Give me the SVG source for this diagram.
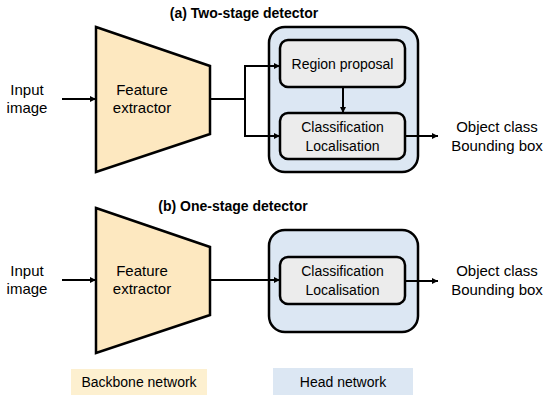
<svg xmlns="http://www.w3.org/2000/svg" width="550" height="404" viewBox="0 0 550 404">
<defs>
<marker id="ah" viewBox="0 0 10 10" refX="10" refY="5" markerWidth="6" markerHeight="6" markerUnits="userSpaceOnUse" orient="auto"><path d="M0,0 L10,5 L0,10 z" fill="#000"/></marker>
<style>
text{font-family:"Liberation Sans",Arial,sans-serif;font-size:14px;fill:#000;text-anchor:middle}
.t{font-weight:bold}
.trap{fill:#fde8c0;stroke:#000;stroke-width:2.5;stroke-linejoin:miter}
.head{fill:#dce7f3;stroke:#000;stroke-width:2.5}
.box{fill:#ececec;stroke:#000;stroke-width:2.5}
.c{fill:none;stroke:#000;stroke-width:2}
.ca{fill:none;stroke:#000;stroke-width:2;marker-end:url(#ah)}
</style>
</defs>
<rect width="550" height="404" fill="#fff"/>
<text class="t" x="244" y="18">(a) Two-stage detector</text>
<text class="t" x="233" y="211">(b) One-stage detector</text>
<g id="input-a"><text x="27" y="95" style="font-size:15px">Input</text><text x="27" y="113" style="font-size:15px">image</text></g>
<g id="extractor-a"><polygon class="trap" points="96,27 210,66 210,134 96,172"/><text x="142" y="95" style="font-size:15px">Feature</text><text x="142" y="113" style="font-size:15px">extractor</text></g>
<g id="head-a"><rect class="head" x="269" y="27" width="149" height="145" rx="16"/></g>
<g id="region-a"><rect class="box" x="280" y="40" width="125" height="47" rx="8"/><text x="342.5" y="69">Region proposal</text></g>
<g id="cls-a"><rect class="box" x="280" y="113" width="125" height="46" rx="8"/><text x="342.5" y="132">Classification</text><text x="342.5" y="151">Localisation</text></g>
<g id="out-a"><text x="497" y="132" style="font-size:15px">Object class</text><text x="497" y="151" style="font-size:15px">Bounding box</text></g>
<g id="input-b"><text x="27" y="276" style="font-size:15px">Input</text><text x="27" y="294" style="font-size:15px">image</text></g>
<g id="extractor-b"><polygon class="trap" points="96,208 210,247 210,315 96,353"/><text x="142" y="276" style="font-size:15px">Feature</text><text x="142" y="294" style="font-size:15px">extractor</text></g>
<g id="head-b"><rect class="head" x="269" y="230" width="149" height="102" rx="16"/></g>
<g id="cls-b"><rect class="box" x="280" y="257" width="125" height="47" rx="8"/><text x="342.5" y="276">Classification</text><text x="342.5" y="295">Localisation</text></g>
<g id="out-b"><text x="497" y="276" style="font-size:15px">Object class</text><text x="497" y="295" style="font-size:15px">Bounding box</text></g>
<g id="legend-backbone"><rect x="71" y="369" width="136" height="26" fill="#fdf0d0"/><text x="139" y="387">Backbone network</text></g>
<g id="legend-head"><rect x="273" y="368" width="140" height="27" fill="#dce7f3"/><text x="343" y="387">Head network</text></g>
<g id="connectors">
<path class="ca" d="M62,99 H96"/>
<path class="c" d="M210,99 H245"/>
<path class="ca" d="M245,99 V66 H280"/>
<path class="ca" d="M245,99 V136 H280"/>
<path class="ca" d="M343,87 V113"/>
<path class="ca" d="M405,136 H438"/>
<path class="ca" d="M62,280 H96"/>
<path class="ca" d="M210,280 H280"/>
<path class="ca" d="M405,281 H438"/>
</g>
</svg>
